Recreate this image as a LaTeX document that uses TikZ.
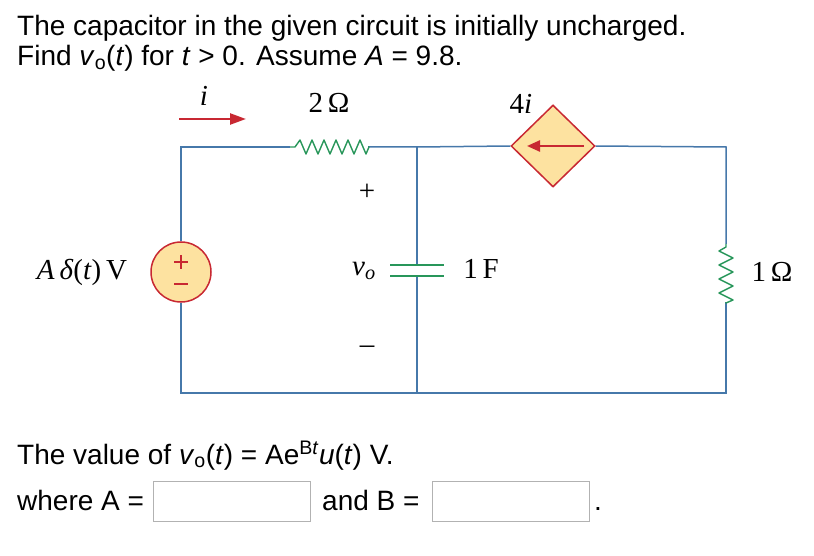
\documentclass[tikz,border=0pt]{standalone}
\usepackage{fontspec}
\setmainfont{Liberation Sans}
\newfontfamily\cserif{Liberation Serif}
\usetikzlibrary{shapes.geometric,arrows.meta}
\definecolor{wire}{RGB}{70,120,170}
\definecolor{rgreen}{RGB}{40,150,90}
\definecolor{fillY}{RGB}{253,226,160}
\definecolor{redc}{RGB}{200,40,50}
\begin{document}
\begin{tikzpicture}[x=1pt,y=-1pt,
  w/.style={draw=wire,line width=1.5pt},
  lab/.style={font=\cserif\fontsize{29}{30}\selectfont,inner sep=0},
  txt/.style={font=\fontsize{28}{32}\selectfont,anchor=base west,inner sep=0},
  box/.style={draw=black!30,line width=0.8pt,fill=white,minimum width=157pt,minimum height=40pt,inner sep=0}]
\useasboundingbox (0,0) rectangle (814,556);
\node[txt] (t1) at (17,36) {The capacitor in the given circuit is initially uncharged.};
\node[txt] (t2) at (17,66) {Find \emph{v}\textsubscript{o}(\emph{t}) for \emph{t} > 0. Assume \emph{A} = 9.8.};
% coordinates
\coordinate (tl) at (181,147);
\coordinate (bl) at (181,393);
\coordinate (tm) at (417,147);
\coordinate (bm) at (417,393);
\coordinate (tr) at (726,147);
\coordinate (br) at (726,393);
\coordinate (r1a) at (290,147);
\coordinate (r1b) at (368,147);
\coordinate (c1) at (417,265);
\coordinate (c2) at (417,276);
\coordinate (r2a) at (726,244);
\coordinate (r2b) at (726,302);
\node[circle,draw=redc,line width=1.5pt,fill=fillY,minimum size=60pt,inner sep=0] (src) at (181,272) {};
\node[diamond,draw=redc,line width=1.5pt,fill=fillY,minimum width=84pt,minimum height=82pt,inner sep=0] (dep) at (553,146) {};
% wires
\draw[w] (src.north) -- (tl) -- (r1a);
\draw[w] (src.south) -- (bl) -- (bm) -- (br) -- (r2b);
\draw[w] (r1b) -- (tm) -- (dep.west);
\draw[w] (dep.east) -- (tr) -- (r2a);
\draw[w] (tm) -- (c1);
\draw[w] (c2) -- (bm);
% resistors
\draw[draw=rgreen,line width=1.4pt,line join=round] (r1a) -- ++(5,0) -- ++(5,-7) -- ++(6,14) -- ++(6,-14) -- ++(6,14) -- ++(6,-14) -- ++(6,14) -- ++(6,-14) -- ++(6,14) -- ++(6,-14) -- ++(6,14) -- ++(6,-14) -- ++(6,14) -- ++(3,-7) -- (r1b);
\draw[draw=rgreen,line width=1.4pt,line join=round] (r2a) -- ++(0,3) -- ++(-7,4) -- ++(14,7) -- ++(-14,7) -- ++(14,7) -- ++(-14,7) -- ++(14,7) -- ++(-14,7) -- ++(14,7) -- ++(-7,3) -- (r2b);
% capacitor
\draw[draw=rgreen,line width=1.4pt] (390,265) -- (444,265) (390,276) -- (444,276);
% source signs
\draw[redc,line width=1.5pt] (174,262) -- (188,262) (181,255) -- (181,269);
\draw[redc,line width=1.5pt] (174,284) -- (188,284);
\draw[redc,line width=2.4pt,-{Triangle[length=13pt,width=11pt]}] (584,146) -- (527,146);
\draw[redc,line width=2.4pt,-{Triangle[length=16pt,width=11pt]}] (179,119) -- (246,119);
% labels
\node[lab] (li) at (204,96) {\emph{i}};
\node[lab] (lr1) at (329,103) {2\,Ω};
\node[lab] (l4i) at (521,104) {4\emph{i}};
\node[lab] (lplus) at (367,192) {+};
\node[lab] (lvo) at (364,271) {\emph{v\textsubscript{o}}};
\node[lab] (lminus) at (367,350) {–};
\node[lab] (l1F) at (481,269) {1\,F};
\node[lab] (lA) at (82,272) {\emph{A}\,\emph{δ}(\emph{t})\,V};
\node[lab] (l1o) at (772,272) {1\,Ω};
\node[txt] (t3) at (17,464) {The value of \emph{v}\textsubscript{o}(\emph{t}) = Ae\textsuperscript{B\emph{t}}\emph{u}(\emph{t}) V.};
\node[txt] (t4) at (17,510) {where A =};
\node[box] (b1) at (232,501) {};
\node[txt] (t5) at (322,510) {and B =};
\node[box] (b2) at (511,501) {};
\node[txt] (t6) at (594,510) {.};
\end{tikzpicture}
\end{document}
